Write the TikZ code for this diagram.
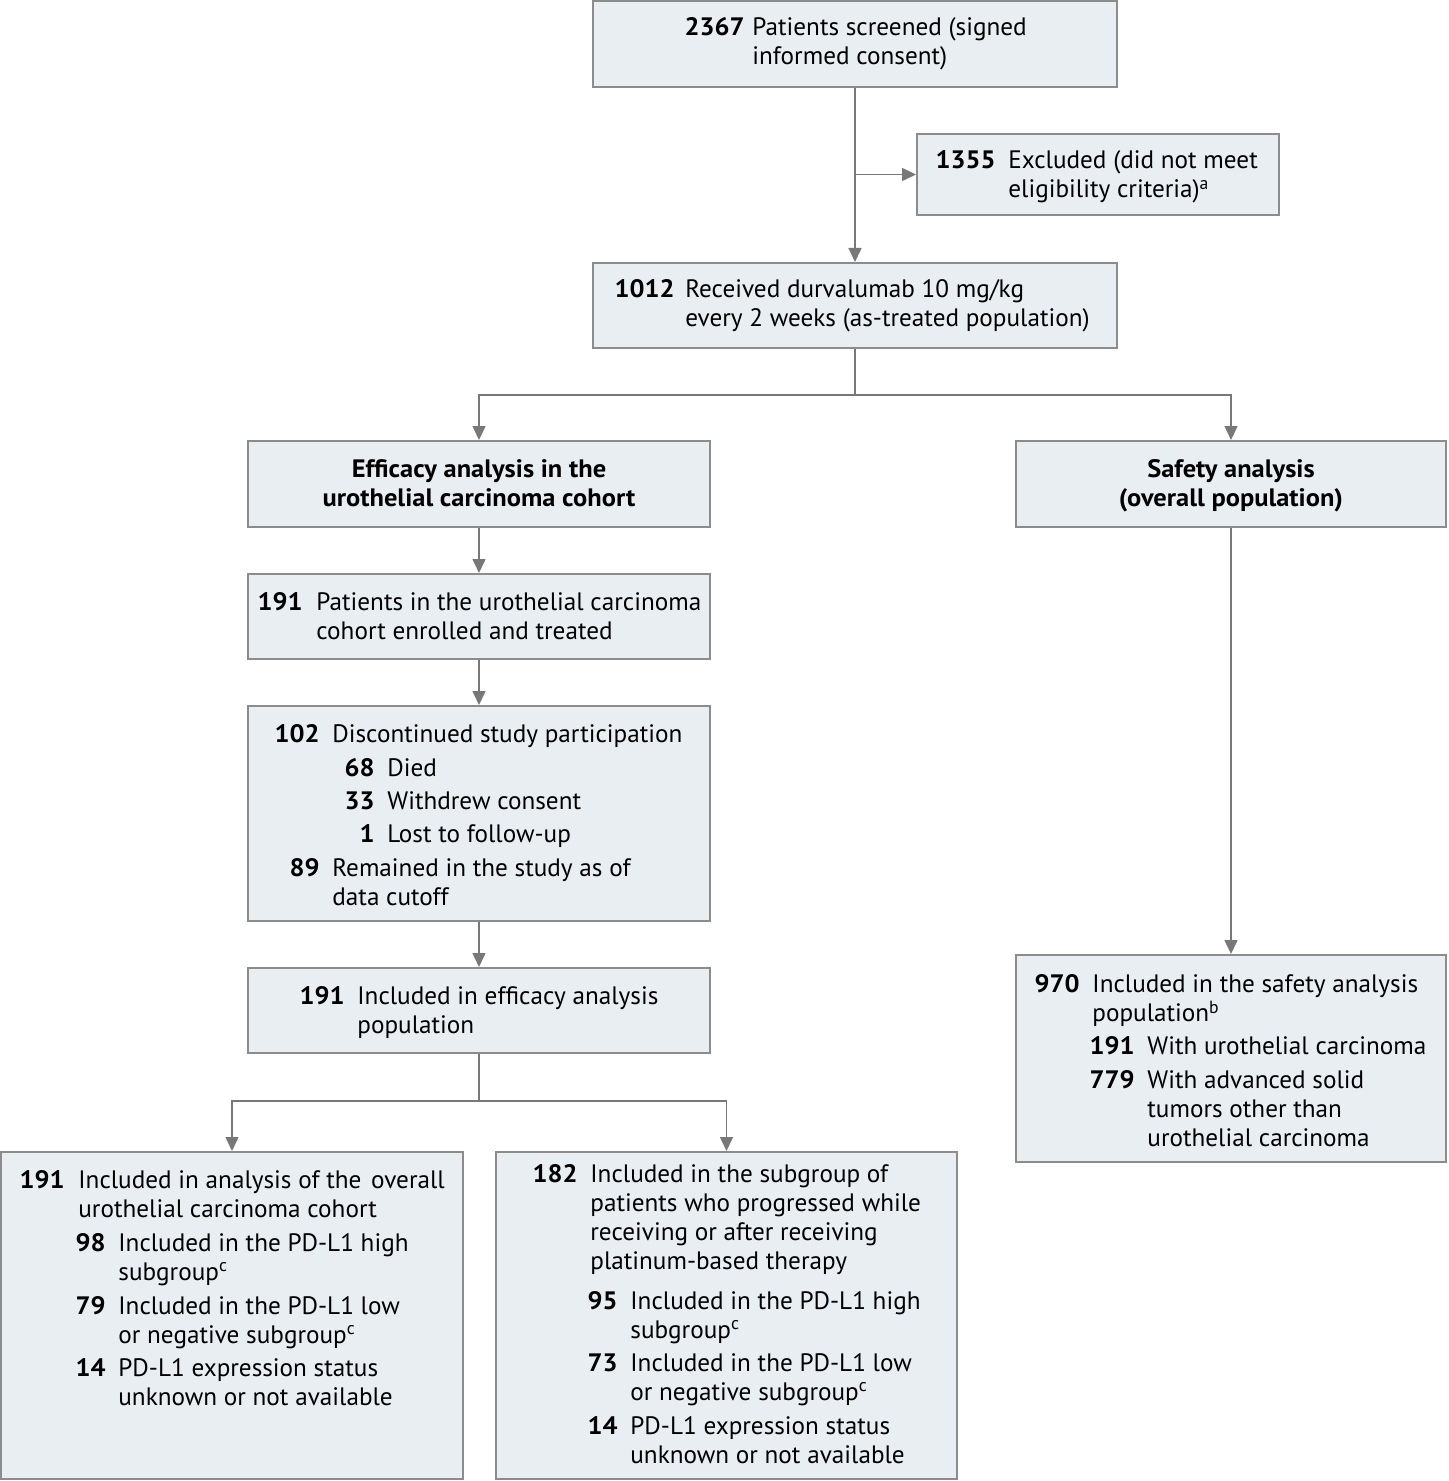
\documentclass[tikz,border=0pt]{standalone}
\usepackage{fontspec}
\setmainfont{PT Sans}[BoldFeatures={FakeStretch=1.05}]
\usetikzlibrary{arrows.meta,fit}
\definecolor{boxfill}{RGB}{232,238,242}
\definecolor{boxline}{RGB}{140,140,140}
\definecolor{arrowc}{RGB}{120,120,120}
\tikzset{
 box/.style={draw=boxline, fill=boxfill, line width=1pt, inner sep=0pt},
 conn/.style={draw=arrowc, line width=0.75pt},
 arr/.style={conn, -{Triangle[length=7pt,width=6.5pt]}},
 num/.style={inner sep=0pt, anchor=base east, font=\bfseries},
 txt/.style={inner sep=0pt, anchor=base west},
 ttl/.style={inner sep=0pt, anchor=base, font=\bfseries},
}
\newcommand\lns[1]{\begin{tabular}[t]{@{}l@{}}#1\end{tabular}}
\newcommand\clns[1]{\begin{tabular}[t]{@{}c@{}}#1\end{tabular}}
\begin{document}
\begin{tikzpicture}[x=0.5pt,y=-0.5pt]
\fontsize{12.6}{14.5}\selectfont
\useasboundingbox (0,0) rectangle (1448,1481);
% boxes
\node[box, fit={(593,1) (1117,87)}] (screen) {};
\node[box, fit={(917,134) (1279,215)}] (excl) {};
\node[box, fit={(593,263) (1117,348)}] (recv) {};
\node[box, fit={(248,441) (710,527)}] (eff) {};
\node[box, fit={(1016,441) (1446,527)}] (saf) {};
\node[box, fit={(248,574) (710,659)}] (pts) {};
\node[box, fit={(248,706) (710,921)}] (disc) {};
\node[box, fit={(248,968) (710,1053)}] (effpop) {};
\node[box, fit={(1,1152) (463,1479)}] (overall) {};
\node[box, fit={(496,1152) (957,1479)}] (plat) {};
\node[box, fit={(1016,955) (1446,1162)}] (safpop) {};
% connectors
\draw[arr] (screen.south) -- (recv.north);
\coordinate (exj) at (screen.south |- excl.west);
\draw[arr] (exj) -- (excl.west);
\coordinate (j1) at (855,395);
\draw[conn] (recv.south) -- (j1);
\draw[arr] (j1) -| (eff.north);
\draw[arr] (j1) -| (saf.north);
\draw[arr] (eff.south) -- (pts.north);
\draw[arr] (pts.south) -- (disc.north);
\draw[arr] (disc.south) -- (effpop.north);
\coordinate (j2) at (479,1101);
\draw[conn] (effpop.south) -- (j2);
\draw[arr] (j2) -| (overall.north);
\draw[arr] (j2) -| (plat.north);
\draw[arr] (saf.south) -- (safpop.north);
% texts
\node[num] (n2367) at (745,36) {2367};
\node[txt] (t2367) at (752,36) {\lns{Patients screened (signed\\informed consent)}};
\node[num] (n1355) at (996,169) {1355};
\node[txt] (t1355) at (1008,169) {\lns{Excluded (did not meet\\eligibility criteria)\textsuperscript{a}}};
\node[num] (n1012) at (675,298) {1012};
\node[txt] (t1012) at (685,298) {\lns{Received durvalumab 10 mg/kg\\every 2 weeks (as-treated population)}};
\node[ttl] (teff) at (479,477) {\clns{Efficacy analysis in the\\urothelial carcinoma cohort}};
\node[ttl] (tsaf) at (1231,477) {\clns{Safety analysis\\(overall population)}};
\node[num] (n191a) at (303,610) {191};
\node[txt] (t191a) at (316,610) {\lns{Patients in the urothelial carcinoma\\cohort enrolled and treated}};
\node[num] (n102) at (320,742) {102};
\node[txt] (t102) at (332,742) {Discontinued study participation};
\node[num] (n68) at (375,776) {68};
\node[txt] (t68) at (387,776) {Died};
\node[num] (n33) at (375,809) {33};
\node[txt] (t33) at (387,809) {Withdrew consent};
\node[num] (n1) at (375,842) {1};
\node[txt] (t1) at (387,842) {Lost to follow-up};
\node[num] (n89) at (320,876) {89};
\node[txt] (t89) at (332,876) {\lns{Remained in the study as of\\data cutoff}};
\node[num] (n191b) at (345,1004) {191};
\node[txt] (t191b) at (357,1004) {\lns{Included in efficacy analysis\\population}};
\node[num] (n191c) at (65,1188) {191};
\node[txt] (t191c) at (78,1188) {\lns{Included in analysis of the\hspace{1.5pt} overall\\urothelial carcinoma cohort}};
\node[num] (n98) at (106,1251) {98};
\node[txt] (t98) at (118,1251) {\lns{Included in the PD-L1 high\\subgroup\textsuperscript{c}}};
\node[num] (n79) at (106,1314) {79};
\node[txt] (t79) at (118,1314) {\lns{Included in the PD-L1 low\\or negative subgroup\textsuperscript{c}}};
\node[num] (n14a) at (106,1376) {14};
\node[txt] (t14a) at (118,1376) {\lns{PD-L1 expression status\\unknown or not available}};
\node[num] (n182) at (578,1182) {182};
\node[txt] (t182) at (590,1182) {\lns{Included in the subgroup of\\patients who progressed while\\receiving or after receiving\\platinum-based therapy}};
\node[num] (n95) at (618,1309) {95};
\node[txt] (t95) at (630,1309) {\lns{Included in the PD-L1 high\\subgroup\textsuperscript{c}}};
\node[num] (n73) at (618,1371) {73};
\node[txt] (t73) at (630,1371) {\lns{Included in the PD-L1 low\\or negative subgroup\textsuperscript{c}}};
\node[num] (n14b) at (618,1434) {14};
\node[txt] (t14b) at (630,1434) {\lns{PD-L1 expression status\\unknown or not available}};
\node[num] (n970) at (1080,992) {970};
\node[txt] (t970) at (1092,992) {\lns{Included in the safety analysis\\population\textsuperscript{b}}};
\node[num] (n191d) at (1135,1054) {191};
\node[txt] (t191d) at (1147,1054) {With urothelial carcinoma};
\node[num] (n779) at (1135,1088) {779};
\node[txt] (t779) at (1147,1088) {\lns{With advanced solid\\tumors other than\\urothelial carcinoma}};
\end{tikzpicture}
\end{document}
